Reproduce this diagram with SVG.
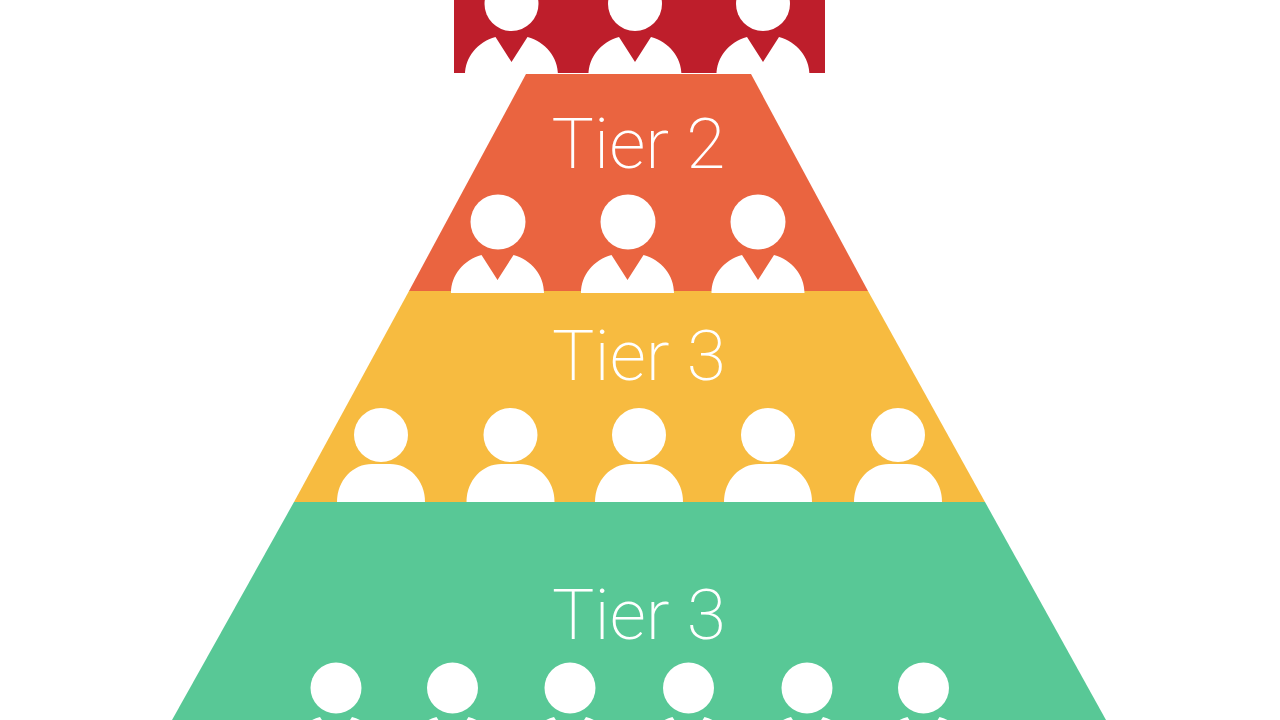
<svg xmlns="http://www.w3.org/2000/svg" width="1280" height="720" viewBox="0 0 1280 720">
<style>
.t{font-family:Roboto,"Liberation Sans",sans-serif;font-weight:200;font-size:71px;fill:#fff;text-anchor:middle}
.w{fill:#fff}
</style>
<defs>
<path id="bodyV" d="M-46.500 38C-46.500 20 -34 5 -16 0L0 25L16 0C34 5 46.500 20 46.500 38Z"/>
<path id="bodyP" d="M-44 38C-44 16 -28 0 -9 0H9C28 0 44 16 44 38Z"/>
</defs>
<rect width="1280" height="720" fill="#fff"/>
<g id="tier1">
<rect x="454" y="0" width="371" height="73" fill="#be1e2b"/>
<g class="w">
<circle cx="511.500" cy="4" r="27"/><use href="#bodyV" x="511.500" y="37"/>
<circle cx="635" cy="4" r="27"/><use href="#bodyV" x="635" y="37"/>
<circle cx="763" cy="4" r="27"/><use href="#bodyV" x="763" y="37"/>
</g>
</g>
<g id="tier3b">
<polygon points="294,502 985,502 1106,720 172,720" fill="#58c896"/>
<text class="t" x="639" y="639">Tier 3</text>
<g class="w">
<circle cx="336" cy="688" r="25.500"/><use href="#bodyV" x="336" y="717"/>
<circle cx="452.500" cy="688" r="25.500"/><use href="#bodyV" x="452.500" y="717"/>
<circle cx="570" cy="688" r="25.500"/><use href="#bodyV" x="570" y="717"/>
<circle cx="688.500" cy="688" r="25.500"/><use href="#bodyV" x="688.500" y="717"/>
<circle cx="807" cy="688" r="25.500"/><use href="#bodyV" x="807" y="717"/>
<circle cx="923.500" cy="688" r="25.500"/><use href="#bodyV" x="923.500" y="717"/>
</g>
</g>
<g id="tier3a">
<polygon points="409,291 868,291 985,502 294,502" fill="#f7bb40"/>
<text class="t" x="639" y="380">Tier 3</text>
<g class="w">
<circle cx="381" cy="435" r="27"/><use href="#bodyP" x="381" y="464"/>
<circle cx="510.500" cy="435" r="27"/><use href="#bodyP" x="510.500" y="464"/>
<circle cx="639" cy="435" r="27"/><use href="#bodyP" x="639" y="464"/>
<circle cx="768" cy="435" r="27"/><use href="#bodyP" x="768" y="464"/>
<circle cx="898" cy="435" r="27"/><use href="#bodyP" x="898" y="464"/>
</g>
</g>
<g id="tier2">
<polygon points="526,74 751,74 868,291 409,291" fill="#ea6440"/>
<text class="t" x="638.500" y="168">Tier 2</text>
<g class="w">
<circle cx="498" cy="222" r="27.500"/><use href="#bodyV" x="497.500" y="255"/>
<circle cx="628" cy="222" r="27.500"/><use href="#bodyV" x="627.500" y="255"/>
<circle cx="758" cy="222" r="27.500"/><use href="#bodyV" x="758" y="255"/>
</g>
</g>
<g id="connectors"/>
</svg>
